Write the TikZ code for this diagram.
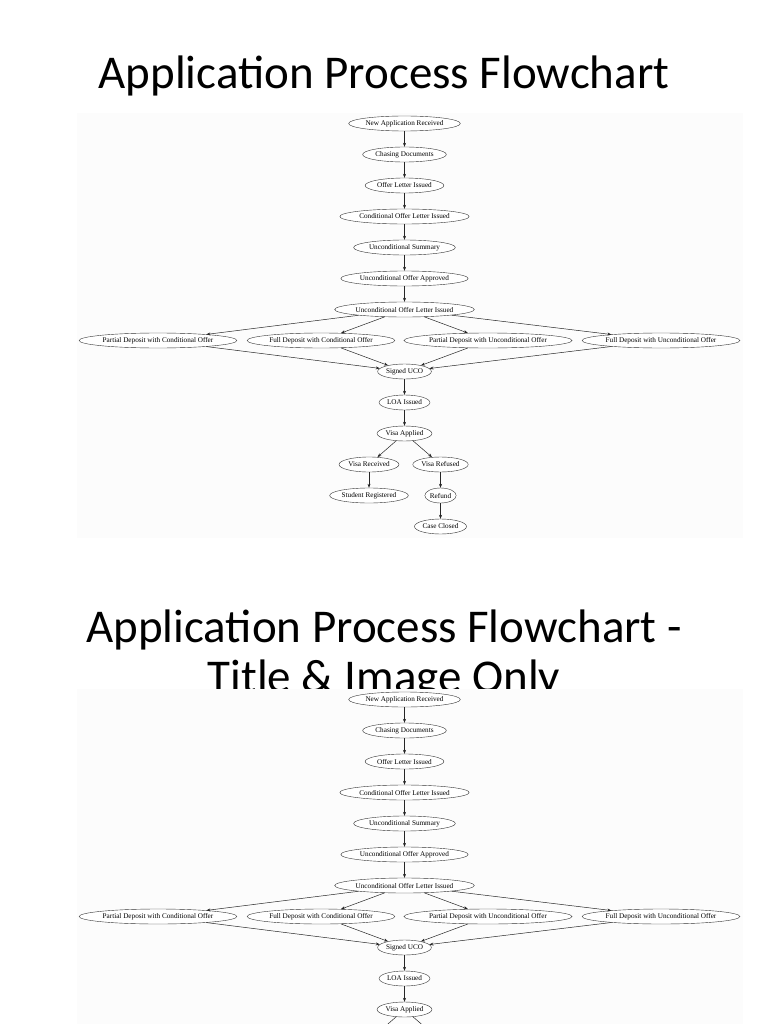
\documentclass[tikz,border=0pt]{standalone}
\usepackage{fontspec}
\setmainfont{Liberation Serif}
\newfontfamily\titlefont{Carlito}
\usetikzlibrary{arrows.meta,positioning,shapes.geometric}

\begin{document}
\begin{tikzpicture}[x=1pt,y=-1pt,->,>={Stealth[length=4pt,width=3pt]},line width=0.5pt,draw=black!85,node distance=31pt]
  \tikzstyle{procstate}=[ellipse,draw=black!80,line width=0.4pt,fill=white,text=black,font=\fontsize{7.2}{8}\selectfont,inner xsep=0.5pt,inner ysep=0pt,minimum height=15pt]
  \tikzstyle{slidetitle}=[font=\titlefont\fontsize{47}{49}\selectfont,anchor=base,text=black]
  \tikzstyle{imagebox}=[fill=black!1]

  \useasboundingbox (0,0) rectangle (768,1024);
  \clip (0,0) rectangle (768,1024);
  \fill[white] (0,0) rectangle (768,1024);

  % slide titles
  \node[slidetitle] (t1) at (384,89) {Application Process Flowchart};
  \node[slidetitle] (t2a) at (384,642) {Application Process Flowchart -};
  \node[slidetitle] (t2b) at (384,692) {Title \& Image Only};

  % the same chart on both slides
  \foreach \s/\dy in {a/0,b/576}{
    \begin{scope}[shift={(0,\dy)}]
      \fill[imagebox] (77,113) rectangle (743,538);

      \node[procstate] (\s-nar) at (404.5,123.5) {New Application Received};
      \node[procstate] (\s-cd) [below of=\s-nar] {Chasing Documents};
      \node[procstate] (\s-oli) [below of=\s-cd] {Offer Letter Issued};
      \node[procstate] (\s-coli) [below of=\s-oli] {Conditional Offer Letter Issued};
      \node[procstate] (\s-us) [below of=\s-coli] {Unconditional Summary};
      \node[procstate] (\s-uoa) [below of=\s-us] {Unconditional Offer Approved};
      \node[procstate] (\s-uoli) [below of=\s-uoa] {Unconditional Offer Letter Issued};
      \node[procstate] (\s-pdc) at (158,340.5) {Partial Deposit with Conditional Offer};
      \node[procstate] (\s-fdc) at (321,340.5) {Full Deposit with Conditional Offer};
      \node[procstate] (\s-pdu) at (488,340.5) {Partial Deposit with Unconditional Offer};
      \node[procstate] (\s-fdu) at (661,340.5) {Full Deposit with Unconditional Offer};
      \node[procstate] (\s-suco) at (404.5,371.5) {Signed UCO};
      \node[procstate] (\s-loa) [below of=\s-suco] {LOA Issued};
      \node[procstate] (\s-va) [below of=\s-loa] {Visa Applied};
      \node[procstate] (\s-vrec) at (369,464.5) {Visa Received};
      \node[procstate] (\s-vref) at (440.5,464.5) {Visa Refused};
      \node[procstate] (\s-sr) [below of=\s-vrec] {Student Registered};
      \node[procstate] (\s-ref) [below of=\s-vref] {Refund};
      \node[procstate] (\s-cc) [below of=\s-ref] {Case Closed};

      \path (\s-nar) edge (\s-cd)
            (\s-cd) edge (\s-oli)
            (\s-oli) edge (\s-coli)
            (\s-coli) edge (\s-us)
            (\s-us) edge (\s-uoa)
            (\s-uoa) edge (\s-uoli)
            (\s-uoli) edge (\s-pdc)
            (\s-uoli) edge (\s-fdc)
            (\s-uoli) edge (\s-pdu)
            (\s-uoli) edge (\s-fdu)
            (\s-pdc) edge (\s-suco)
            (\s-fdc) edge (\s-suco)
            (\s-pdu) edge (\s-suco)
            (\s-fdu) edge (\s-suco)
            (\s-suco) edge (\s-loa)
            (\s-loa) edge (\s-va)
            (\s-va) edge (\s-vrec)
            (\s-va) edge (\s-vref)
            (\s-vrec) edge (\s-sr)
            (\s-vref) edge (\s-ref)
            (\s-ref) edge (\s-cc);
    \end{scope}
  }
\end{tikzpicture}
\end{document}
